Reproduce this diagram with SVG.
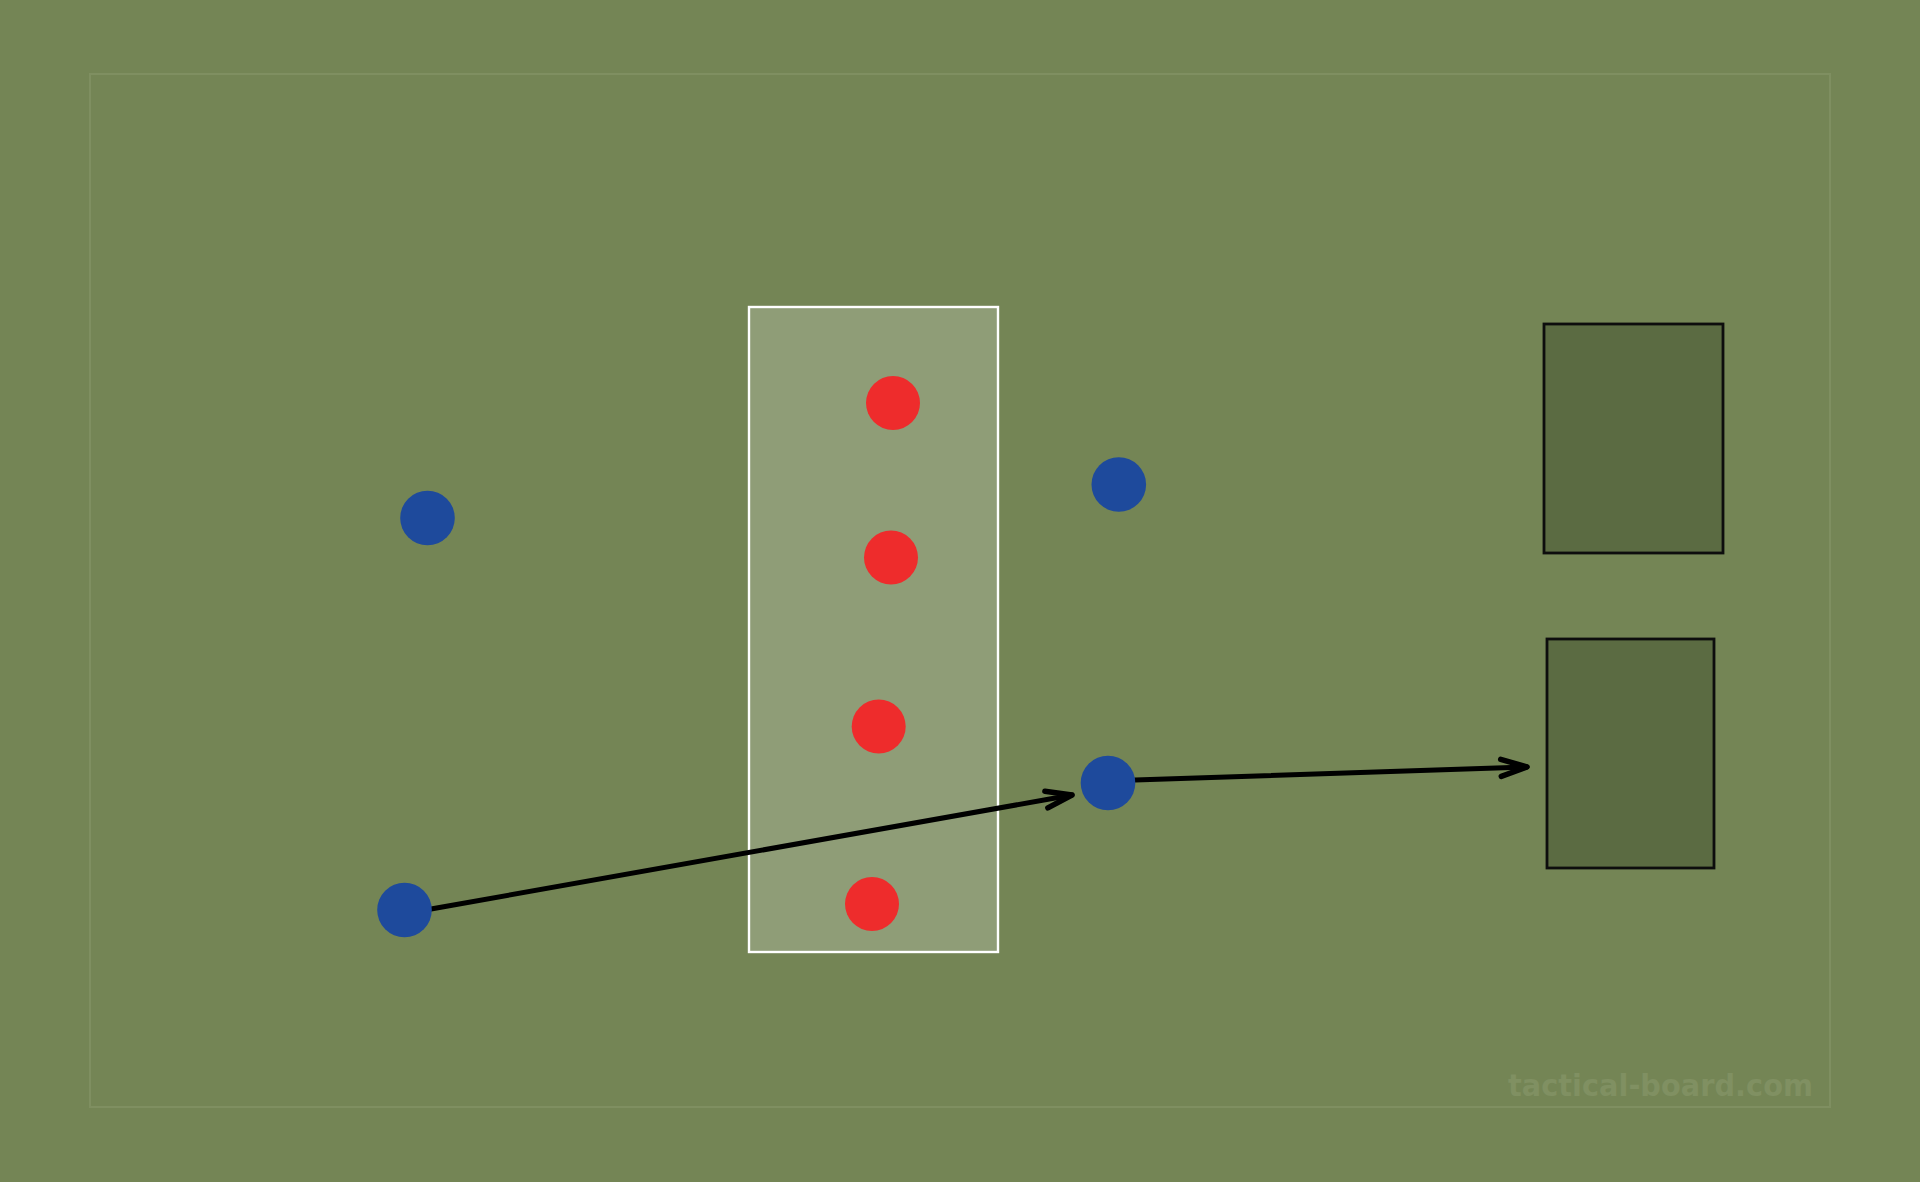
<svg xmlns="http://www.w3.org/2000/svg" width="1920" height="1182" viewBox="0 0 1920 1182">
  <style>
    .blue { fill: #1e4a9c; }
    .red { fill: #ee2c2c; }
    .goal { fill: #5b6b42; stroke: #0d0d0d; stroke-width: 2.8; }
    .conn { stroke: #000; stroke-width: 5; fill: none; stroke-linecap: round; }
  </style>
  <defs>
    <marker id="arrow" markerUnits="userSpaceOnUse" markerWidth="40" markerHeight="30" refX="0" refY="0" viewBox="-35 -15 40 30" orient="auto" overflow="visible">
      <path d="M -26 -8.5 L 0 0 L -26 8.5" fill="none" stroke="#000" stroke-width="5.5" stroke-linecap="round" stroke-linejoin="round"/>
    </marker>
  </defs>
  <rect x="0" y="0" width="1920" height="1182" fill="#748555"/>
  <rect x="90" y="74" width="1740" height="1033" fill="none" stroke="#7f8f61" stroke-width="2"/>
  <text x="1813" y="1096" text-anchor="end" font-family="'DejaVu Sans', sans-serif" font-size="31" font-weight="bold" fill="#809062" textLength="305" lengthAdjust="spacingAndGlyphs">tactical-board.com</text>

  <g id="zone">
    <rect x="749" y="307" width="249" height="645" fill="#ffffff" fill-opacity="0.2" stroke="#ffffff" stroke-width="2.4"/>
  </g>
  <g id="goal-top">
    <rect class="goal" x="1544" y="324" width="179" height="229"/>
  </g>
  <g id="goal-bottom">
    <rect class="goal" x="1547" y="639" width="167" height="229"/>
  </g>

  <g id="connectors">
    <line class="conn" x1="431" y1="909" x2="1072" y2="795" marker-end="url(#arrow)"/>
    <line class="conn" x1="1135" y1="780" x2="1527" y2="767" marker-end="url(#arrow)"/>
  </g>

  <g id="red-1"><circle class="red" cx="893" cy="403" r="27"/></g>
  <g id="red-2"><circle class="red" cx="891" cy="557.5" r="27"/></g>
  <g id="red-3"><circle class="red" cx="878.7" cy="726.5" r="27"/></g>
  <g id="red-4"><circle class="red" cx="872" cy="904" r="27"/></g>

  <g id="blue-1"><circle class="blue" cx="427.5" cy="518" r="27.3"/></g>
  <g id="blue-2"><circle class="blue" cx="404.5" cy="910" r="27.3"/></g>
  <g id="blue-3"><circle class="blue" cx="1108" cy="783" r="27.3"/></g>
  <g id="blue-4"><circle class="blue" cx="1118.8" cy="484.5" r="27.3"/></g>
</svg>
